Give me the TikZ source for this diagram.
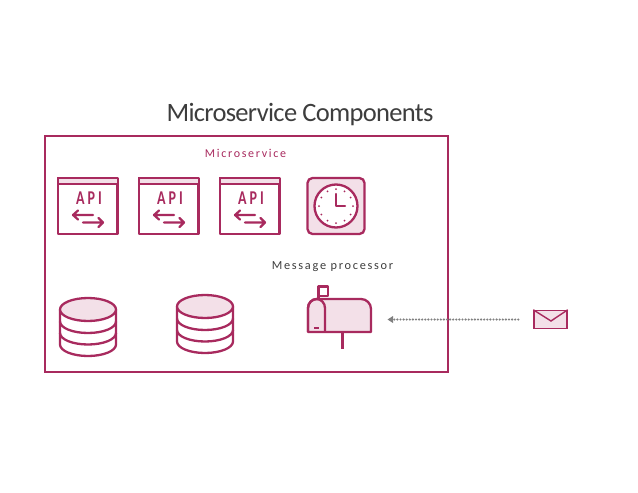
\documentclass[tikz,border=0pt]{standalone}
\usepackage{fontspec}
\setmainfont{Carlito}
\usetikzlibrary{arrows.meta}
\definecolor{wine}{HTML}{A82A5E}
\definecolor{blush}{HTML}{F3E0E8}
\definecolor{inkgrey}{HTML}{3D3D3D}
\definecolor{dotgrey}{HTML}{808080}
\newfontfamily\spaced{Carlito}[LetterSpace=14]
\newfontfamily\apifont{Carlito}[LetterSpace=22]
\tikzset{
  icon/.style={draw=wine, line width=2.3pt, line join=round},
  thinline/.style={draw=wine, line width=1.3pt},
  arrowline/.style={draw=wine, line width=2.2pt, line cap=round, line join=round},
  % window with API text and two arrows, origin at top left, size 59.5 x 56
  apiwin/.pic={
    \path[icon, fill=white] (0,0) rectangle (59.5,56);
    \path[thinline, fill=blush] (0,0) rectangle (59.5,6);
    \node[text=wine, font=\apifont\bfseries\fontsize{19.5}{19.5}\selectfont, inner sep=0pt] (-label) at (31,20) {\scalebox{0.72}[1]{API}};
    \path[arrowline] (35,37) -- (15,37) (20,32.5) -- (15,37) -- (20,41.5);
    \path[arrowline] (25,44.5) -- (45,44.5) (40.5,40) -- (45,44.5) -- (40.5,49);
  },
  % stack of three discs, origin at centre of the top ellipse
  stack/.pic={
    \path[icon, fill=white] (-28,0) -- (-28,35) arc[start angle=180, end angle=0, x radius=28, y radius=11.5] -- (28,0);
    \path[icon] (-28,12) arc[start angle=180, end angle=0, x radius=28, y radius=11.5];
    \path[icon] (-28,23.5) arc[start angle=180, end angle=0, x radius=28, y radius=11.5];
    \path[icon, fill=blush] (0,0) ellipse[x radius=28, y radius=11.5];
  }
}
\begin{document}
\begin{tikzpicture}[x=1pt,y=-1pt]
  \useasboundingbox (0,0) rectangle (638,493);

  \node[text=inkgrey, font=\fontsize{26.5}{26.5}\selectfont, inner sep=0pt] (title) at (300,115) {\addfontfeature{LetterSpace=-2.6}Microservice Components};

  % outer frame
  \draw[wine, line width=2.1pt] (45,136) rectangle (448,372);
  \node[text=wine, font=\spaced\fontsize{12}{12}\selectfont, inner sep=0pt] (msvc) at (245.5,153) {Microservice};
  \node[text=inkgrey, font=\spaced\fontsize{12.3}{12.3}\selectfont, inner sep=0pt] (mproc) at (332.5,266.5) {Message processor};

  % api windows
  \pic (apia) at (58,178) {apiwin};
  \pic (apib) at (139,178) {apiwin};
  \pic (apic) at (220,178) {apiwin};

  % clock
  \draw[icon, fill=blush, rounded corners=5pt] (307.5,178) rectangle (364.5,234);
  \draw[icon, fill=white] (336,206) circle[radius=21.5];
  \foreach \a in {0,30,...,330}
    \fill[wine] (336,206) ++(\a:17) circle[radius=1];
  \draw[arrowline] (336,194) -- (336,206) -- (345,206);

  % data stores
  \pic at (88,309.5) {stack};
  \pic at (205,306.5) {stack};

  % mailbox
  \draw[icon, fill=white] (318.5,296) rectangle (328,286.5);
  \draw[icon] (318.5,296) -- (318.5,300);
  \draw[icon, fill=blush] (308,332) -- (308,308) arc[start angle=180, end angle=270, radius=9] -- (361,299) arc[start angle=270, end angle=360, radius=10] -- (371,332) -- cycle;
  \draw[icon] (308,332) -- (308,308) arc[start angle=180, end angle=360, x radius=8.5, y radius=9] -- (325,332);
  \draw[wine, line width=1.8pt] (314,328) -- (318.5,328);
  \draw[icon] (342.5,332) -- (342.5,349);
  \coordinate (mbox) at (371,319.5);

  % envelope
  \node[draw=wine, fill=blush, line width=1.4pt, minimum width=33pt, minimum height=18pt, inner sep=0pt] (env) at (550.5,319.5) {};
  \draw[wine, line width=1.4pt] (env.north west) -- (551,321) -- (env.north east);

  % message arrow
  \draw[dotgrey, line width=2.4pt, line cap=round, dash pattern=on 0pt off 3.1pt, shorten >=20pt, shorten <=15pt] (env.west) -- (mbox);
  \fill[dotgrey] (387.5,319.5) -- (393,316) -- (393,323) -- cycle;
\end{tikzpicture}
\end{document}
